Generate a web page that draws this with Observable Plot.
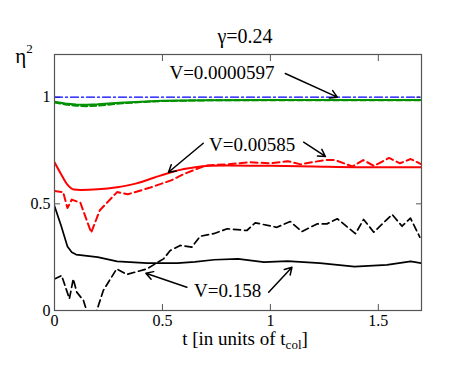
<!DOCTYPE html>
<html><head><meta charset="utf-8">
<script src="https://cdn.jsdelivr.net/npm/d3@7"></script>
<script src="https://cdn.jsdelivr.net/npm/@observablehq/plot@0.6"></script>
<style>body{margin:0;background:#fff}</style>
</head><body><div id="chart"></div>
<script>
// Green (V=0.0000597)
const greenT = [0, 0.05, 0.1, 0.15, 0.2, 0.3, 0.4, 0.5, 0.7, 1.0, 1.3, 1.7];
const greenSolid = [0.978, 0.970, 0.966, 0.965, 0.967, 0.974, 0.979, 0.983, 0.986, 0.987, 0.987, 0.987];
const greenDashed = [0.975, 0.966, 0.960, 0.958, 0.960, 0.970, 0.977, 0.982, 0.985, 0.986, 0.986, 0.986];
// Blue reference
const blueT = [0, 1.7];
const blueV = [1, 1];
// Red (V=0.00585)
const redSolidT = [0, 0.03, 0.06, 0.09, 0.12, 0.2, 0.29, 0.38, 0.46, 0.54, 0.6, 0.66, 0.72, 0.8, 1.0, 1.2, 1.4, 1.7];
const redSolidV = [0.695, 0.64, 0.59, 0.567, 0.565, 0.568, 0.578, 0.596, 0.622, 0.648, 0.663, 0.673, 0.678, 0.68, 0.678, 0.675, 0.672, 0.672];
const redDashT = [0, 0.04, 0.06, 0.08, 0.12, 0.17, 0.21, 0.29, 0.34, 0.44, 0.54, 0.6, 0.7, 0.8, 0.9, 1.0, 1.08, 1.14, 1.25, 1.3, 1.38, 1.43, 1.48, 1.55, 1.6, 1.65, 1.7];
const redDashV = [0.56, 0.555, 0.48, 0.52, 0.505, 0.365, 0.47, 0.555, 0.545, 0.575, 0.61, 0.64, 0.68, 0.685, 0.695, 0.69, 0.70, 0.685, 0.705, 0.705, 0.675, 0.705, 0.678, 0.715, 0.69, 0.71, 0.685];
// Black (V=0.158)
const blackSolidT = [0, 0.03, 0.06, 0.08, 0.1, 0.2, 0.29, 0.43, 0.57, 0.65, 0.74, 0.85, 0.97, 1.08, 1.23, 1.39, 1.54, 1.65, 1.7];
const blackSolidV = [0.49, 0.40, 0.30, 0.273, 0.262, 0.25, 0.23, 0.222, 0.222, 0.228, 0.238, 0.242, 0.227, 0.231, 0.222, 0.206, 0.214, 0.23, 0.222];
const blackDashT = [0, 0.033, 0.069, 0.087, 0.103, 0.134, 0.149, 0.165, 0.185, 0.196, 0.226, 0.288, 0.335, 0.428, 0.505, 0.536, 0.582, 0.636, 0.675, 0.737, 0.8, 0.891, 0.93, 1.03, 1.092, 1.146, 1.216, 1.262, 1.31, 1.394, 1.432, 1.479, 1.564, 1.61, 1.649, 1.692];
const blackDashV = [0.148, 0.164, 0.055, 0.148, 0.086, 0.047, 0.0, -0.03, -0.03, 0.0, 0.094, 0.195, 0.169, 0.195, 0.242, 0.281, 0.305, 0.297, 0.348, 0.36, 0.383, 0.375, 0.411, 0.39, 0.417, 0.37, 0.406, 0.406, 0.43, 0.36, 0.427, 0.367, 0.45, 0.395, 0.433, 0.344];
// Annotations
const annoLabels = ["V=0.0000597", "V=0.00585", "V=0.158"];
const annoT = [0.776, 0.915, 0.802];
const annoV = [1.115, 0.774, 0.094];
const arrowT1 = [1.069, 0.689, 1.154, 0.613, 0.992];
const arrowV1 = [1.111, 0.784, 0.789, 0.109, 0.086];
const arrowT2 = [1.31, 0.528, 1.255, 0.423, 1.10];
const arrowV2 = [1.0, 0.648, 0.722, 0.175, 0.203];
// Ticks
const xTickLabels = [0, 0.5, 1, 1.5];
const xTickMarks = [0.5, 1, 1.5];
const yTickLabels = [0, 0.5, 1];
const yTickMarks = [0.5, 1];
const titleText = "γ=0.24";

const zip = (t, v) => t.map((d, i) => ({t: d, v: v[i]}));
const greenS = zip(greenT, greenSolid), greenD = zip(greenT, greenDashed);
const blue = zip(blueT, blueV);
const redS = zip(redSolidT, redSolidV), redD = zip(redDashT, redDashV);
const blackS = zip(blackSolidT, blackSolidV), blackD = zip(blackDashT, blackDashV);
const anno = annoLabels.map((s, i) => ({s, t: annoT[i], v: annoV[i]}));
const arrows = arrowT1.map((d, i) => ({t1: d, v1: arrowV1[i], t2: arrowT2[i], v2: arrowV2[i]}));

const font = "Liberation Serif, serif";
const fmt = d => String(d);
const svg = Plot.plot({
  width: 474, height: 366,
  marginLeft: 54, marginRight: 53, marginTop: 54, marginBottom: 56,
  style: {fontFamily: font, fontSize: "16px", color: "#000", background: "#fff"},
  x: {domain: [0, 1.7]},
  y: {domain: [0, 1.2]},
  marks: [
    Plot.axisX(xTickMarks, {anchor: "bottom", tickSize: -6, text: null, label: null, stroke: "#555"}),
    Plot.axisX(xTickMarks, {anchor: "top", tickSize: -6, text: null, label: null, stroke: "#555"}),
    Plot.axisY(yTickMarks, {anchor: "left", tickSize: -6, text: null, label: null, stroke: "#555"}),
    Plot.axisY(yTickMarks, {anchor: "right", tickSize: -6, text: null, label: null, stroke: "#555"}),
    Plot.axisX(xTickLabels, {anchor: "bottom", tickSize: 0, tickPadding: 4, tickFormat: fmt, label: null, fontSize: 16, fontFamily: font}),
    Plot.axisY(yTickLabels, {anchor: "left", tickSize: 0, tickPadding: 4, tickFormat: fmt, label: null, fontSize: 16, fontFamily: font}),
    Plot.line(blue, {x: "t", y: "v", stroke: "#0000ff", strokeWidth: 1.3, strokeDasharray: "8,3,2,3", clip: true}),
    Plot.line(greenD, {x: "t", y: "v", stroke: "#009000", strokeWidth: 2, strokeDasharray: "6,3", clip: true}),
    Plot.line(greenS, {x: "t", y: "v", stroke: "#009000", strokeWidth: 2, clip: true}),
    Plot.line(redD, {x: "t", y: "v", stroke: "#ff0000", strokeWidth: 2, strokeDasharray: "7,4", clip: true}),
    Plot.line(redS, {x: "t", y: "v", stroke: "#ff0000", strokeWidth: 2, curve: "monotone-x", clip: true}),
    Plot.line(blackD, {x: "t", y: "v", stroke: "#000", strokeWidth: 1.7, strokeDasharray: "7,4", clip: true}),
    Plot.line(blackS, {x: "t", y: "v", stroke: "#000", strokeWidth: 1.7, clip: true}),
    Plot.arrow(arrows, {x1: "t1", y1: "v1", x2: "t2", y2: "v2", stroke: "#000", strokeWidth: 1.5, headLength: 8}),
    Plot.text(anno, {x: "t", y: "v", text: "s", fontSize: 19, fontFamily: font, fill: "#000"}),
    Plot.frame({stroke: "#555", strokeWidth: 1.2})
  ]
});

const s = d3.select(svg);
s.append("text").attr("x", 245).attr("y", 43).attr("text-anchor", "middle")
  .attr("font-family", font).attr("font-size", 20).attr("fill", "#000").text(titleText);
const eta = s.append("text").attr("x", 24).attr("y", 63).attr("font-family", font).attr("font-size", 21).attr("fill", "#000");
eta.append("tspan").text("η");
eta.append("tspan").attr("font-size", 13).attr("dy", -10).text("2");
const xl = s.append("text").attr("x", 245).attr("y", 345).attr("text-anchor", "middle")
  .attr("font-family", font).attr("font-size", 19).attr("fill", "#000");
xl.append("tspan").text("t [in units of t");
xl.append("tspan").attr("font-size", 13).attr("dy", 4).text("col");
xl.append("tspan").attr("dy", -4).text("]");
document.getElementById("chart").appendChild(svg);
</script>
</body></html>
